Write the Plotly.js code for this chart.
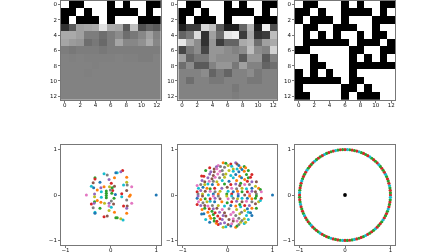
<!DOCTYPE html>
<html><head><meta charset="utf-8">
<script src="https://cdn.plot.ly/plotly-3.0.1.min.js"></script>
<style>html,body{margin:0;padding:0;background:#fff}#c{width:448px;height:252px;filter:blur(.28px)}</style>
</head><body><div id="c"></div>
<script>
const ticksHeat=[0,2,4,6,8,10,12];
const ticksUnit=[-1,0,1];
const palette=['#1f77b4','#ff7f0e','#2ca02c','#d62728','#9467bd','#8c564b','#e377c2','#7f7f7f','#bcbd22','#17becf'];
const bin=[
[255,0,0,255,255,255,0,255,0,255,255,0,0],
[0,0,255,0,255,255,0,0,0,0,255,0,255],
[0,255,0,0,0,255,0,255,255,255,0,0,0]];
const heat1=bin.concat([
[50,90,160,165,170,225,170,165,90,190,80,100,90],
[170,170,160,125,125,110,125,140,110,120,135,160,130],
[165,155,150,110,120,105,125,165,135,135,145,170,135],
[125,120,125,125,125,120,125,125,125,125,125,125,125],
[130,128,130,128,128,128,128,130,128,128,125,125,130],
[130,130,130,130,128,130,130,130,130,130,130,130,130],
[130,130,130,128,130,130,130,130,130,130,130,130,130],
[130,130,130,130,130,130,130,130,130,130,130,130,130],
[130,130,130,130,130,130,130,130,130,130,130,130,130],
[130,130,130,130,130,130,130,130,130,130,130,130,130]]);
const heat2=bin.concat([
[30,60,60,215,190,90,30,30,100,180,30,240,80],
[100,120,220,50,160,110,230,240,60,170,50,60,190],
[230,170,140,50,150,60,100,100,170,180,110,160,170],
[70,120,140,70,150,150,140,130,140,190,140,130,210],
[160,100,120,120,150,140,140,140,90,150,150,90,130],
[110,140,90,90,130,150,150,120,160,130,130,100,110],
[130,130,130,140,100,120,100,130,130,140,120,130,130],
[130,110,130,130,120,120,130,130,130,120,120,130,130],
[130,130,130,130,130,130,130,120,130,130,130,130,130],
[130,130,130,130,130,130,130,125,130,130,130,130,130]]);
const heat3=bin.concat([
[255,0,0,255,255,0,0,0,255,255,0,255,255],
[255,0,255,0,255,0,255,255,0,255,0,0,255],
[255,0,0,0,0,0,0,255,0,0,0,255,0],
[0,0,255,255,255,255,255,0,0,255,255,0,0],
[255,255,0,255,255,255,255,0,255,0,255,0,255],
[255,255,0,0,255,255,255,0,0,0,0,0,0],
[0,255,0,255,0,255,255,0,255,255,255,255,255],
[0,0,0,0,0,0,255,0,0,255,255,255,255],
[0,255,255,255,255,255,0,0,255,0,255,255,255],
[0,0,255,255,255,255,0,255,0,0,0,255,255]]);

const x1=[1,.26,.22,.14,.11,-.08,-.15,.35,.08,-.35,-.35,-.04,-.24,-.39,.01,.35,.28,.36,.08,-.03,.03,-.43,-.38,-.15,-.22,.46,.04,-.30,-.01,-.10,.35,-.21,-.36,-.54,-.10,.02,.24,.43,.10,
-.36,-.21,-.10,.41,.24,.07,-.10,-.30,-.36,-.43,-.37,-.22,-.14,-.04,.01,.06,-.04,.35,.46,.28,.36,.35,.01,-.24,-.39,-.04,-.35,-.35,.08,.35,-.08,-.15,.11,.14,.22,.27];
const y1=[0,.54,.51,.49,.49,.44,.47,.39,.38,.38,.35,.34,.28,.27,.26,.28,.22,.22,.19,.18,.16,.19,.16,.18,.16,.18,.10,.11,.11,.09,.10,.07,.02,0,.04,.04,.03,0,.01,
-.04,-.05,-.01,-.03,-.04,-.07,-.06,-.12,-.15,-.20,-.18,-.16,-.18,-.18,-.13,-.20,-.24,-.11,-.18,-.24,-.24,-.29,-.27,-.29,-.28,-.34,-.38,-.40,-.38,-.40,-.46,-.48,-.50,-.50,-.52,-.55];
const c1=[0,3,4,9,0,7,9,1,1,2,3,4,0,5,3,8,9,7,5,8,2,9,0,1,4,6,3,1,7,2,5,9,4,6,2,2,3,1,0,
8,9,2,1,9,2,2,1,2,3,4,1,8,4,7,5,6,7,6,3,5,4,9,2,7,8,9,0,1,1,5,3,2,2,8,9];

const x2=[1,-.10,-.04,.07,.18,.21,-.21,-.16,.01,.09,.25,.29,.37,-.40,-.25,-.30,-.24,-.07,.125,.21,.32,.40,-.49,-.58,-.375,-.30,-.17,-.12,.03,.125,.25,.37,.46,-.53,-.40,-.32,-.22,-.10,-.04,.07,.18,.27,.42,.54,-.44,-.35,-.28,-.18,-.07,.125,.31,.38,.46,.51,-.57,-.51,-.41,-.32,-.24,-.12,.03,.20,.29,.44,.54,.64,-.68,-.60,-.51,-.44,-.34,-.21,-.07,.07,.18,.27,.38,.485,.62,-.65,-.55,-.46,-.39,-.29,-.13,-.01,.09,.20,.32,.42,.54,.69,.73,-.68,-.60,-.50,-.39,-.28,-.17,.01,.125,.22,.32,.44,.54,.62,.75,-.66,-.56,-.43,-.32,-.21,-.02,.09,.235,.38,.49,.64,
-.10,-.04,.07,.18,.21,-.21,-.16,.01,.09,.25,.29,.37,-.40,-.25,-.30,-.24,-.07,.125,.21,.32,.40,-.49,-.58,-.375,-.30,-.17,-.12,.03,.125,.25,.37,.46,-.53,-.40,-.32,-.22,-.10,-.04,.07,.18,.27,.42,.54,-.44,-.35,-.28,-.18,-.07,.125,.31,.38,.46,.51,-.57,-.51,-.41,-.32,-.24,-.12,.03,.20,.29,.44,.54,.64,-.68,-.60,-.51,-.44,-.34,-.21,-.07,.07,.18,.27,.38,.485,.62,-.65,-.55,-.46,-.39,-.29,-.13,-.01,.09,.20,.32,.42,.54,.69,.73,-.68,-.60,-.50,-.39,-.28,-.17,.01,.125,.22,.32,.44,.54,.62,.75,-.66,-.56,-.32,-.21,-.02,.09,.235,.49,.64];
const y2=[0,.71,.70,.68,.71,.68,.65,.625,.65,.63,.65,.60,.625,.60,.62,.57,.58,.61,.57,.57,.56,.60,.54,.42,.51,.51,.52,.54,.54,.52,.51,.52,.54,.41,.46,.43,.46,.45,.46,.43,.45,.41,.45,.45,.38,.36,.39,.38,.39,.38,.38,.34,.38,.39,.32,.29,.30,.30,.29,.32,.30,.32,.26,.30,.29,.29,.21,.23,.23,.24,.23,.23,.24,.23,.24,.21,.23,.23,.19,.15,.17,.15,.14,.15,.15,.17,.15,.14,.15,.14,.15,.15,.12,.07,.10,.08,.08,.07,.08,.08,.07,.08,.07,.07,.08,.07,.07,.02,.02,0,.02,.02,.02,.02,.02,0,.02,.02,
-.71,-.70,-.68,-.71,-.68,-.65,-.625,-.65,-.63,-.65,-.60,-.625,-.60,-.62,-.57,-.58,-.61,-.57,-.57,-.56,-.60,-.54,-.42,-.51,-.51,-.52,-.54,-.54,-.52,-.51,-.52,-.54,-.41,-.46,-.43,-.46,-.45,-.46,-.43,-.45,-.41,-.45,-.45,-.38,-.36,-.39,-.38,-.39,-.38,-.38,-.34,-.38,-.39,-.32,-.29,-.30,-.30,-.29,-.32,-.30,-.32,-.26,-.30,-.29,-.29,-.21,-.23,-.23,-.24,-.23,-.23,-.24,-.23,-.24,-.21,-.23,-.23,-.19,-.15,-.17,-.15,-.14,-.15,-.15,-.17,-.15,-.14,-.15,-.14,-.15,-.15,-.12,-.07,-.10,-.08,-.08,-.07,-.08,-.08,-.07,-.08,-.07,-.07,-.08,-.07,-.07,-.02,-.02,-.02,-.02,-.02,-.02,-.02,-.02,-.02];

const x3=[1,.999,.995,.988,.978,.966,.951,.934,.914,.891,.866,.839,.809,.777,.743,.707,.669,.629,.588,.545,.5,.454,.407,.358,.309,.259,.208,.156,.105,.052,
0,-.052,-.105,-.156,-.208,-.259,-.309,-.358,-.407,-.454,-.5,-.545,-.588,-.629,-.669,-.707,-.743,-.777,-.809,-.839,-.866,-.891,-.914,-.934,-.951,-.966,-.978,-.988,-.995,-.999,
-1,-.999,-.995,-.988,-.978,-.966,-.951,-.934,-.914,-.891,-.866,-.839,-.809,-.777,-.743,-.707,-.669,-.629,-.588,-.545,-.5,-.454,-.407,-.358,-.309,-.259,-.208,-.156,-.105,-.052,
0,.052,.105,.156,.208,.259,.309,.358,.407,.454,.5,.545,.588,.629,.669,.707,.743,.777,.809,.839,.866,.891,.914,.934,.951,.966,.978,.988,.995,.999];
const y3=[0,.052,.105,.156,.208,.259,.309,.358,.407,.454,.5,.545,.588,.629,.669,.707,.743,.777,.809,.839,.866,.891,.914,.934,.951,.966,.978,.988,.995,.999,
1,.999,.995,.988,.978,.966,.951,.934,.914,.891,.866,.839,.809,.777,.743,.707,.669,.629,.588,.545,.5,.454,.407,.358,.309,.259,.208,.156,.105,.052,
0,-.052,-.105,-.156,-.208,-.259,-.309,-.358,-.407,-.454,-.5,-.545,-.588,-.629,-.669,-.707,-.743,-.777,-.809,-.839,-.866,-.891,-.914,-.934,-.951,-.966,-.978,-.988,-.995,-.999,
-1,-.999,-.995,-.988,-.978,-.966,-.951,-.934,-.914,-.891,-.866,-.839,-.809,-.777,-.743,-.707,-.669,-.629,-.588,-.545,-.5,-.454,-.407,-.358,-.309,-.259,-.208,-.156,-.105,-.052];
const cCenter=[0];
const ringColors=[3,2,3,2,9];

const W=448,H=252;
const boxes=[[61,160.7,.7,100],[178.3,277,.7,100],[295,395,.7,100],[61,160.7,145,245],[178.3,277,145,245],[295,395,145,245]];
const layout={width:W,height:H,margin:{l:0,r:0,t:0,b:0},paper_bgcolor:'#fff',plot_bgcolor:'#fff',showlegend:false};
boxes.forEach((b,i)=>{
  const n=i?String(i+1):'';
  const heat=i<3;
  const common={showgrid:false,zeroline:false,showline:true,mirror:true,linecolor:'#777',linewidth:1,
    ticks:'outside',tickwidth:.8,tickcolor:'#555',tickfont:{family:'DejaVu Sans',size:5.5,color:'#111'},
    tickmode:'array',tickvals:heat?ticksHeat:ticksUnit,ticktext:(heat?ticksHeat:ticksUnit).map(v=>String(v).replace('-','\u2212'))};
  layout['xaxis'+n]=Object.assign({},common,{ticklen:1.5,ticklabelstandoff:-2,anchor:(i?'y'+(i+1):'y'),domain:[b[0]/W,b[1]/W],range:heat?[-.5,12.5]:[-1.1,1.1]});
  layout['yaxis'+n]=Object.assign({},common,{ticklen:2,ticklabelstandoff:0,anchor:(i?'x'+(i+1):'x'),domain:[1-b[3]/H,1-b[2]/H],range:heat?[12.5,-.5]:[-1.1,1.1]});
});
const hm=(z,a)=>({type:'heatmap',z:z,xaxis:'x'+a,yaxis:'y'+a,zmin:0,zmax:255,showscale:false,hoverinfo:'skip',colorscale:[[0,'#000'],[1,'#fff']]});
const sc=(x,y,col,a,s)=>({type:'scatter',mode:'markers',x:x,y:y,xaxis:'x'+a,yaxis:'y'+a,hoverinfo:'skip',cliponaxis:false,marker:{size:s,color:col,line:{width:0}}});
const data=[
 hm(heat1,''),hm(heat2,'2'),hm(heat3,'3'),
 sc(x1,y1,c1.map(k=>palette[k]),'4',3),
 sc(x2,y2,x2.map((v,i)=>palette[i%10]),'5',3),
 sc(x3,y3,x3.map((v,i)=>palette[ringColors[i%5]]),'6',3.2),
 sc(cCenter,cCenter,'#000','6',3.8)
];
Plotly.newPlot('c',data,layout,{staticPlot:true,displayModeBar:false});
</script></body></html>
